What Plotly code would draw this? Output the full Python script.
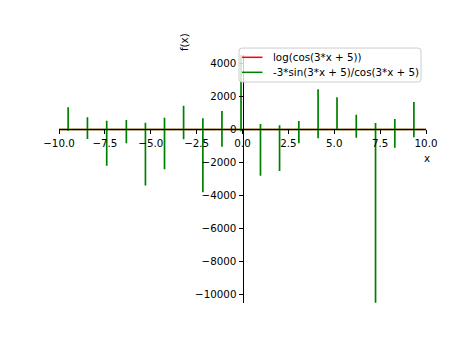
import plotly.graph_objects as go

# Spike positions (asymptotes) and their extents
spike_x = [-9.50, -8.45, -7.40, -6.33, -5.29, -4.25, -3.21, -2.16, -1.12, -0.08,
           0.98, 2.02, 3.07, 4.12, 5.15, 6.20, 7.25, 8.30, 9.34]
spike_low = [-80, -575, -2190, -840, -3400, -2410, -595, -3800, -1040, -100,
             -2800, -2520, -840, -535, -50, -500, -10500, -1100, -470]
spike_high = [1345, 740, 530, 575, 410, 715, 1440, 680, 1120, 4600,
              330, 250, 515, 2440, 1950, 900, 395, 640, 1670]

# log(cos(3x+5)) stays near zero on this scale
log_x = [-10.0, 10.0]
log_y = [0.0, 0.0]

series_names = ["log(cos(3*x + 5))", "-3*sin(3*x + 5)/cos(3*x + 5)"]
series_colors = ["#ff0000", "#008000"]

x_ticks = [-10.0, -7.5, -5.0, -2.5, 0.0, 2.5, 5.0, 7.5, 10.0]
y_ticks = [-10000, -8000, -6000, -4000, -2000, 0, 2000, 4000]

x_range = [-10, 10]
y_range = [-10515, 4515]

gx, gy = [x_range[0]], [0]
for xv, lo, hi in zip(spike_x, spike_low, spike_high):
    gx += [xv, xv, xv, xv]
    gy += [0, lo, hi, 0]
gx.append(x_range[1]); gy.append(0)

def fmt(v, dec):
    s = f"{abs(v):.{dec}f}"
    return ("\u2212" + s) if v < 0 else s

fig = go.Figure()
fig.add_trace(go.Scatter(x=log_x, y=log_y, mode="lines", name=series_names[0],
                         line=dict(color=series_colors[0], width=1.5), showlegend=False))
fig.add_trace(go.Scatter(x=gx, y=gy, mode="lines", name=series_names[1],
                         line=dict(color=series_colors[1], width=1.7), showlegend=False))

x_pos = (0 - y_range[0]) / (y_range[1] - y_range[0])
y_pos = (0 - x_range[0]) / (x_range[1] - x_range[0])

font = dict(family="DejaVu Sans", size=10.3, color="black")

# manual legend (matplotlib-like)
bx0, bx1, by0, by1 = 0.4905, 0.9864, 0.8911, 1.028
rx, ry = 0.008, 0.012
path = (f"M {bx0+rx},{by0} L {bx1-rx},{by0} Q {bx1},{by0} {bx1},{by0+ry} "
        f"L {bx1},{by1-ry} Q {bx1},{by1} {bx1-rx},{by1} L {bx0+rx},{by1} "
        f"Q {bx0},{by1} {bx0},{by1-ry} L {bx0},{by0+ry} Q {bx0},{by0} {bx0+rx},{by0} Z")
shapes = [dict(type="path", path=path, xref="paper", yref="paper",
               fillcolor="rgba(255,255,255,0.8)", line=dict(color="#cccccc", width=1),
               layer="above")]
annotations = []
row_y = [0.9907, 0.9302]
for name, col, yy in zip(series_names, series_colors, row_y):
    shapes.append(dict(type="line", xref="paper", yref="paper", x0=0.4986, x1=0.5545,
                       y0=yy, y1=yy, line=dict(color=col, width=1.5), layer="above"))
    annotations.append(dict(text=name, x=0.579, y=yy, xref="paper", yref="paper",
                            xanchor="left", yanchor="middle", showarrow=False, font=font))

annotations += [
    dict(text="f(x)", x=0.3406, y=1.052, xref="paper", yref="paper", xanchor="center",
         yanchor="middle", showarrow=False, textangle=-90, font=font),
    dict(text="x", x=1.003, y=0.585, xref="paper", yref="paper", xanchor="center",
         yanchor="middle", showarrow=False, font=font),
]

fig.update_layout(
    width=474, height=355,
    margin=dict(l=59, r=48, t=55, b=52),
    paper_bgcolor="white", plot_bgcolor="white",
    font=font,
    xaxis=dict(range=x_range, anchor="free", position=x_pos, showline=True,
               linecolor="black", linewidth=1, ticks="outside", ticklen=4,
               tickcolor="black", tickvals=x_ticks,
               ticktext=[fmt(v, 1) for v in x_ticks], showgrid=False,
               zeroline=False, tickfont=font),
    yaxis=dict(range=y_range, anchor="free", position=y_pos, showline=True,
               linecolor="black", linewidth=1, ticks="outside", ticklen=4,
               tickcolor="black", tickvals=y_ticks,
               ticktext=[fmt(v, 0) for v in y_ticks], showgrid=False,
               zeroline=False, tickfont=font),
    showlegend=False,
    shapes=shapes,
    annotations=annotations,
)

fig.write_html("out.html")
